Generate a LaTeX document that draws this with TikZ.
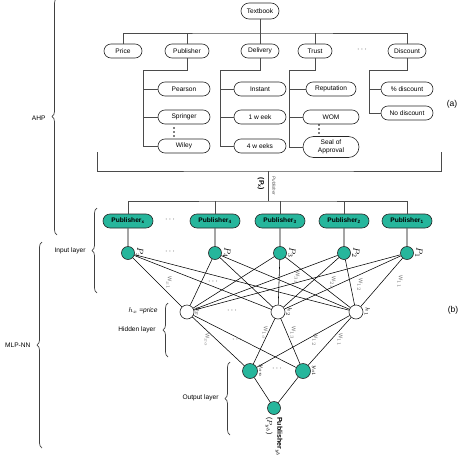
\documentclass[tikz,border=0pt]{standalone}
\usepackage{fontspec}
\setmainfont{Liberation Sans}
\usetikzlibrary{shapes.misc, positioning, decorations.pathreplacing}
\definecolor{tealpub}{RGB}{38,182,156}
\definecolor{treegrey}{RGB}{75,75,75}
\def\tl{tealpub}
\def\fs{\fontsize{6.6}{7.8}\selectfont}
\tikzstyle{crit}=[draw=black!85, rounded rectangle, line width=0.6pt, minimum height=14pt,
                  minimum width=40pt, inner sep=1pt, font=\fs]
\tikzstyle{pub}=[draw=black!85, rounded rectangle, line width=0.6pt, fill=\tl, minimum height=14pt,
                  minimum width=52pt, inner sep=1pt, font=\fs\bfseries]
\tikzstyle{unit}=[draw=black!85, circle, fill=\tl, minimum size=13pt, inner sep=0pt, line width=0.6pt]
\tikzstyle{hid}=[draw=black!85, circle, fill=white, minimum size=14pt, inner sep=0pt, line width=0.6pt]
\tikzstyle{tree}=[treegrey, line width=1pt]
\tikzstyle{wire}=[black, line width=0.55pt]
\tikzstyle{wlab}=[rotate=-90, font=\fontsize{5.5}{6}\selectfont, text=black!55, inner sep=0pt]
\tikzstyle{nlab}=[rotate=-90, anchor=south, inner sep=1pt]
\tikzstyle{hdots}=[font=\fontsize{8}{9}\selectfont\bfseries, inner sep=0pt]
\tikzstyle{brc}=[decorate, decoration={brace, amplitude=5pt}, black!75, line width=0.7pt]

\begin{document}
\begin{tikzpicture}[x=1pt, y=-1pt]
  \useasboundingbox (0,0) rectangle (474,474);

  % AHP tree
  \node[crit, minimum height=16pt] (tb) at (260,11) {Textbook};
  \coordinate (bus) at (260,33);
  \foreach \x/\n/\t/\w in {123/c1/Price/40, 187/c2/Publisher/46, 260/c3/Delivery/40, 315/c4/Trust/36, 407/c5/Discount/40}{
    \node[crit, minimum width=\w pt] (\n) at (\x,51) {\t};
  }
  \draw[tree] (tb) -- (bus);
  \draw[tree] (c1.north) |- (bus) -| (c5.north);
  \foreach \n in {c2,c3,c4}
    \draw[tree] (\n.north) -- (\n.north |- bus);
  \node[hdots] (cdots) at (362,50) {$\cdots$};

  \foreach \n/\x/\y/\t/\w in {s21/184/89/Pearson/54, s22/184/117/Springer/54, s23/184/146/Wiley/54,
                              s31/260/89/Instant/54, s32/260/117/1 w eek/54, s33/260/146/4 w eeks/54,
                              s41/331/89/Reputation/52, s42/331/117/WOM/58,
                              s51/407/89/\% discount/54, s52/407/113/No discount/54}
    \node[crit, minimum width=\w pt] (\n) at (\x,\y) {\t};
  \node[crit, minimum width=58pt, minimum height=21pt, align=center, font=\fs] (s43) at (331,147) {Seal of\\Approval};

  \foreach \p/\k/\b in {c2/143/s23, c3/220/s33, c4/289/s43, c5/369/s52}{
    \coordinate (t\p) at (\k,70);
    \draw[tree] (\p.south) |- (t\p) -- (t\p |- \b.west);
  }
  \foreach \p/\n in {c2/s21, c2/s22, c2/s23, c3/s31, c3/s32, c3/s33, c4/s41, c4/s42, c4/s43, c5/s51, c5/s52}
    \draw[tree] (\n.west) -- (t\p |- \n.west);
  % vertical dots
  \foreach \d in {128,132,136}{
    \fill (174,\d) circle (0.8);
    \fill (319,\d-3) circle (0.8);
  }

  \node[font=\fontsize{8.5}{9}\selectfont] (ta) at (452,104) {(a)};

  % bracket down to the publishers
  \coordinate (bl) at (97,152);
  \coordinate (br) at (441,152);
  \coordinate (bm) at (268,171);
  \coordinate (pbus) at (268,201);
  \draw[tree] (bl) |- (bm) -| (br);
  \draw[tree] (bm) -- (pbus);
  \node[rotate=-90, font=\fontsize{7}{8}\selectfont\bfseries] (px) at (261,184) {($\mathbf{P_x}$)};
  \node[rotate=-90, font=\fontsize{4.5}{5}\selectfont\itshape, text=black!70] (pxl) at (274,186) {Publisher};

  % MLP-NN
  \foreach \x/\i/\s in {128/5/x, 215/4/4, 280/3/3, 344/2/2, 407/1/1}{
    \node[pub] (p\i) at (\x,221) {Publisher$_{\mathbf{\s}}$};
    \node[unit] (i\i) at (\x,253) {};
    \node[nlab, font=\fontsize{9.5}{10}\selectfont] (li\i) at (i\i.east) {$P_{\s}$};
    \draw[wire] (p\i) -- (i\i);
  }
  \draw[tree] (p5.north) |- (pbus) -| (p1.north);
  \foreach \i in {2,3,4}
    \draw[tree] (p\i.north) -- (p\i.north |- pbus);
  \node[hdots] (pdots) at (170,220) {$\cdots$};
  \node[hdots] (idots) at (170,252) {$\cdots$};

  \foreach \x/\j/\s in {356/1/1, 278/2/2, 187/3/x}{
    \node[hid] (h\j) at (\x,312) {};
    \node[nlab, font=\fontsize{6.5}{7}\selectfont] (lh\j) at (h\j.east) {$h_{\s}$};
  }
  \node[hdots] (hdots) at (232,311) {$\cdots$};

  \node[unit, minimum size=15pt] (o1) at (303,371) {};
  \node[unit, minimum size=15pt] (o2) at (250,371) {};
  \node[nlab, font=\fontsize{6}{6.5}\selectfont] (lo1) at (o1.east) {$y_{o1}$};
  \node[nlab, font=\fontsize{6}{6.5}\selectfont] (lo2) at (o2.east) {$y_{on}$};
  \node[hdots] (odots) at (277,369) {$\cdots$};
  \node[unit] (f) at (274,408) {};
  \node[rotate=-90, anchor=west, align=left, inner sep=1pt, font=\fontsize{7}{10}\selectfont] (lf) at (274,416)
     {\textbf{Publisher}$_{yb}$\\ ($P_{yb}$)};

  \foreach \i in {1,...,5}{
    \foreach \j in {1,2,3}{
      \draw[wire] (i\i) -- (h\j);
    }
  }
  \foreach \j in {1,2,3}{
    \foreach \k in {1,2}{
      \draw[wire] (h\j) -- (o\k);
    }
  }
  \draw[wire] (o1) -- (f);
  \draw[wire] (o2) -- (f);

  % weights
  \foreach \x/\y/\w in {169/283/x1, 297/278/3x, 333/283/2x, 360/285/12, 400/282/11,
                        207/340/xo, 265/333/1o, 293/333/13, 315/340/12, 340/340/11}
    \node[wlab] at (\x,\y) {W$_{\w}$};
  \node[hdots] (wd1) at (213,282) {$\cdots$};
  \node[hdots] (wd2) at (237,340) {$\cdots$};

  \node[font=\fontsize{8.5}{9}\selectfont] (tb2) at (453,310) {(b)};

  % braces
  \draw[brc] (57,235) -- (57,-2);
  \node[font=\fs, anchor=east] (ahp) at (49,118) {AHP};
  \draw[brc] (42,448) -- (42,242);
  \node[font=\fs, anchor=east] (mlp) at (34,345) {MLP-NN};
  \draw[brc] (97,293) -- (97,208);
  \node[font=\fs, anchor=east] (inl) at (89,251) {Input layer};
  \draw[brc] (168,357) -- (168,303);
  \node[font=\fs, anchor=east] (hdl) at (159,330) {Hidden layer};
  \node[font=\fs\itshape, anchor=east] (hxp) at (161,311) {$h_x$ =price};
  \draw[brc] (230,435) -- (230,362);
  \node[font=\fs, anchor=east] (outl) at (222,398) {Output layer};
\end{tikzpicture}
\end{document}
